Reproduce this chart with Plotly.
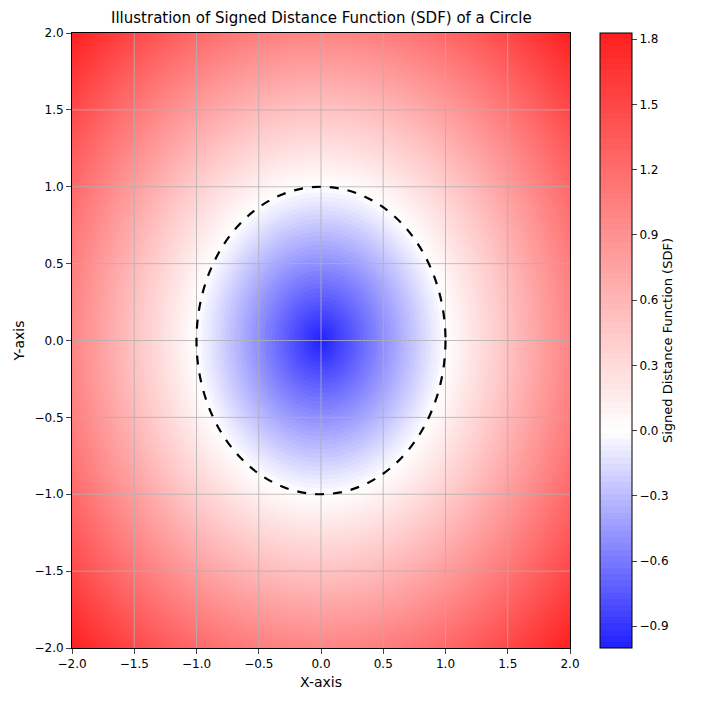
import numpy as np
import plotly.graph_objects as go

# grid axes of the field
x_vals = np.linspace(-2, 2, 301)
y_vals = np.linspace(-2, 2, 301)
radius = 1.0
tick_vals = [-2.0, -1.5, -1.0, -0.5, 0.0, 0.5, 1.0, 1.5, 2.0]
cbar_ticks = [-0.9, -0.6, -0.3, 0, 0.3, 0.6, 0.9, 1.2, 1.5, 1.8]

X, Y = np.meshgrid(x_vals, y_vals)
sdf = np.sqrt(X**2 + Y**2) - radius

zmin, zmax = float(sdf.min()), float(sdf.max())
wpos = (0 - zmin) / (zmax - zmin)
cscale = [[0, "#1f1fff"], [wpos, "#ffffff"], [1, "#ff1f1f"]]

fig = go.Figure()
fig.add_trace(go.Contour(
    x=x_vals, y=y_vals, z=sdf, colorscale=cscale, zmin=zmin, zmax=zmax,
    contours=dict(start=zmin, end=zmax, size=(zmax - zmin) / 100, coloring="fill", showlines=False),
    line=dict(width=0),
    colorbar=dict(x=1.04, xanchor="left", thickness=32, len=1, ypad=0, y=0.5, yanchor="middle",
                  tickvals=cbar_ticks, tickformat=".1f",
                  ticks="outside", outlinewidth=1, outlinecolor="black",
                  title=dict(text="Signed Distance Function (SDF)", side="right", font=dict(size=13))),
))
for t in tick_vals[1:-1]:
    fig.add_shape(type="line", x0=t, x1=t, y0=-2, y1=2, layer="above",
                  line=dict(color="rgba(176,176,176,0.8)", width=1))
    fig.add_shape(type="line", y0=t, y1=t, x0=-2, x1=2, layer="above",
                  line=dict(color="rgba(176,176,176,0.8)", width=1))
fig.add_shape(type="circle", x0=-radius, y0=-radius, x1=radius, y1=radius, layer="above",
              line=dict(color="black", width=2.2, dash="dash"))
fig.add_annotation(text="Illustration of Signed Distance Function (SDF) of a Circle",
                   xref="paper", yref="paper", x=0.5, y=1, yanchor="bottom", yshift=4,
                   showarrow=False, font=dict(size=15))

ax = dict(range=[-2, 2], tickvals=tick_vals, tickformat=".1f", showgrid=False,
          zeroline=False, showline=True, mirror=True, linecolor="black",
          ticks="outside", layer="above traces", tickfont=dict(size=12))
fig.update_layout(
    width=703, height=701, plot_bgcolor="white", paper_bgcolor="white",
    margin=dict(l=64, r=141, t=25, b=61, autoexpand=False),
    font=dict(family="DejaVu Sans", color="black", size=12),
    xaxis=dict(ax, title=dict(text="X-axis", standoff=6)),
    yaxis=dict(ax, title=dict(text="Y-axis", standoff=6)),
)
fig.write_html("out.html")
